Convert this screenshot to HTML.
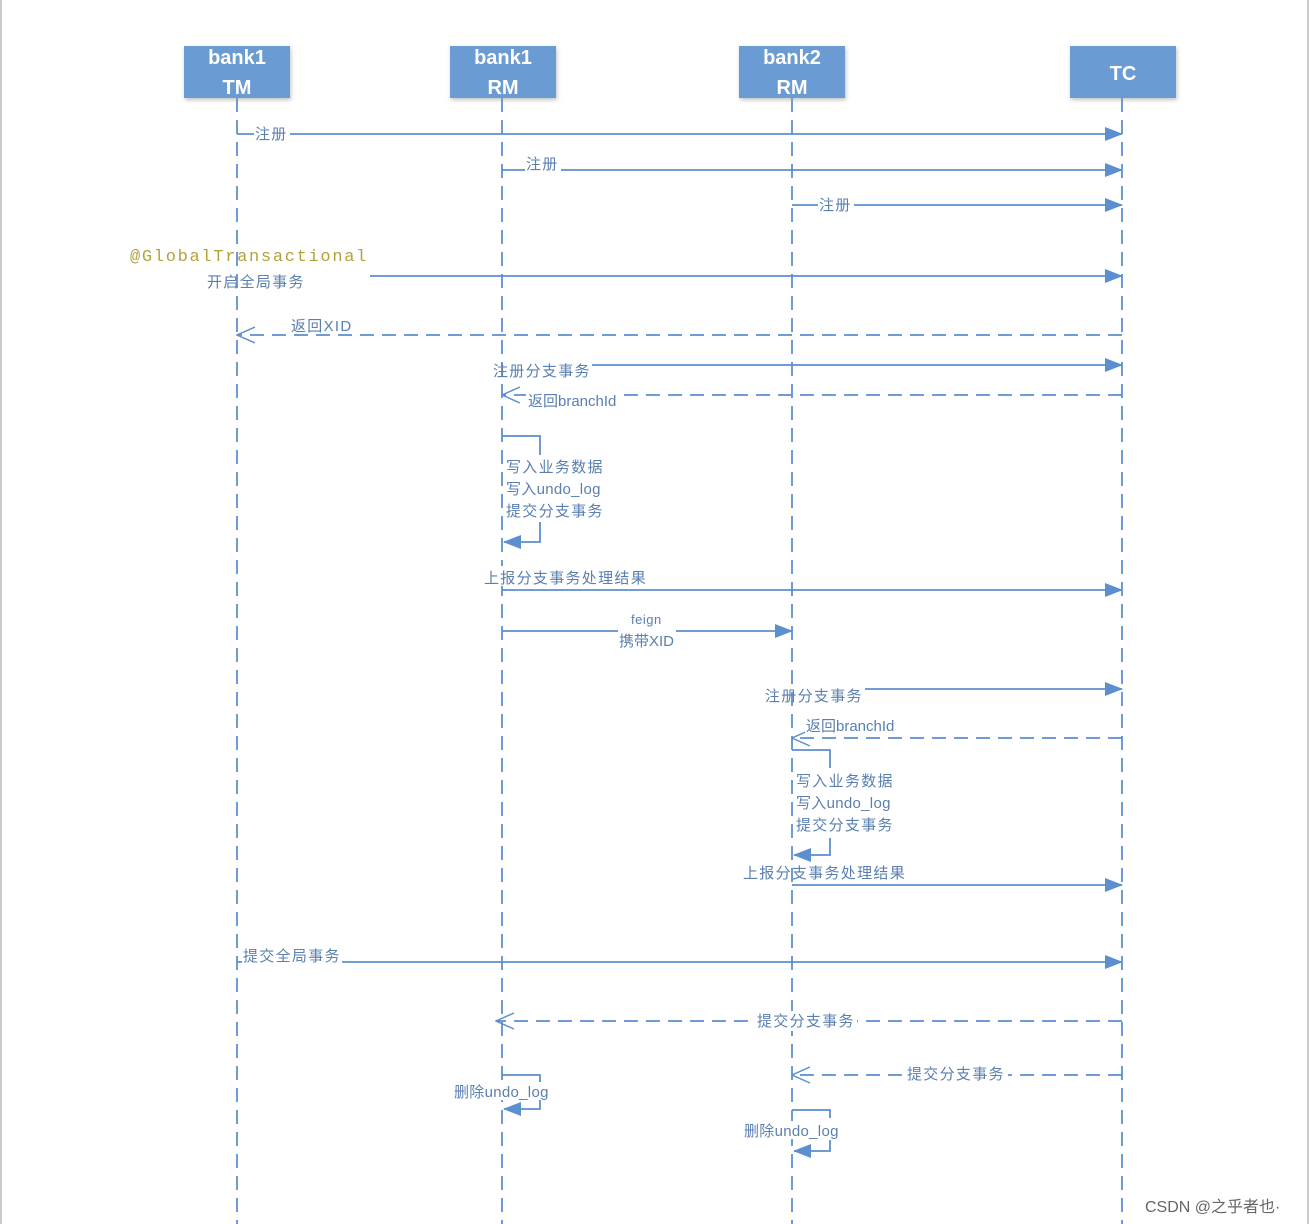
<!DOCTYPE html>
<html><head><meta charset="utf-8"><style>
html,body{margin:0;padding:0;background:#fff}
svg{display:block}
text{font-family:"Liberation Sans","Noto Sans CJK SC",sans-serif;fill:#5a7fb0;font-size:15px;letter-spacing:1.3px}
</style></head><body>
<svg width="1310" height="1224" viewBox="0 0 1310 1224" xmlns="http://www.w3.org/2000/svg">
<defs>
<marker id="f" markerWidth="18" markerHeight="14" refX="17" refY="7" orient="auto" markerUnits="userSpaceOnUse"><path d="M0,0 L18,7 L0,14 Z" fill="#5b8fd0"/></marker>
<marker id="o" markerWidth="20" markerHeight="18" refX="19" refY="9" orient="auto" markerUnits="userSpaceOnUse"><path d="M1,1 L19,9 L1,17" fill="none" stroke="#5b8fd0" stroke-width="1.5"/></marker>
<filter id="sh"><feDropShadow dx="1" dy="2" stdDeviation="2" flood-color="#999" flood-opacity="0.6"/></filter>
</defs>
<line x1="1" y1="0" x2="1" y2="1224" stroke="#ccc" stroke-width="2"/>
<line x1="1308" y1="0" x2="1308" y2="1224" stroke="#ccc" stroke-width="2"/>
<g stroke="#6d9bd4" stroke-width="2" stroke-dasharray="14,8">
<line x1="237" y1="98" x2="237" y2="1224"/>
<line x1="502" y1="98" x2="502" y2="1224"/>
<line x1="792" y1="98" x2="792" y2="1224"/>
<line x1="1122" y1="98" x2="1122" y2="1224"/>
</g>
<g fill="#6a9bd3" filter="url(#sh)">
<rect x="184" y="46" width="106" height="52"/>
<rect x="450" y="46" width="106" height="52"/>
<rect x="739" y="46" width="106" height="52"/>
<rect x="1070" y="46" width="106" height="52"/>
</g>
<g text-anchor="middle">
<text x="237" y="64" style="fill:#fff;font-size:20px;font-weight:bold;letter-spacing:0">bank1</text>
<text x="237" y="94" style="fill:#fff;font-size:20px;font-weight:bold;letter-spacing:0">TM</text>
<text x="503" y="64" style="fill:#fff;font-size:20px;font-weight:bold;letter-spacing:0">bank1</text>
<text x="503" y="94" style="fill:#fff;font-size:20px;font-weight:bold;letter-spacing:0">RM</text>
<text x="792" y="64" style="fill:#fff;font-size:20px;font-weight:bold;letter-spacing:0">bank2</text>
<text x="792" y="94" style="fill:#fff;font-size:20px;font-weight:bold;letter-spacing:0">RM</text>
<text x="1123" y="80" style="fill:#fff;font-size:20px;font-weight:bold;letter-spacing:0">TC</text>
</g>
<g stroke="#5b8fd0" stroke-width="1.8" fill="none">
<line x1="237" y1="134" x2="1122" y2="134" marker-end="url(#f)"/>
<line x1="502" y1="170" x2="1122" y2="170" marker-end="url(#f)"/>
<line x1="792" y1="205" x2="1122" y2="205" marker-end="url(#f)"/>
<line x1="370" y1="276" x2="1122" y2="276" marker-end="url(#f)"/>
<line x1="1122" y1="335" x2="237" y2="335" stroke-dasharray="14,8" marker-end="url(#o)"/>
<line x1="592" y1="365" x2="1122" y2="365" marker-end="url(#f)"/>
<line x1="1122" y1="395" x2="502" y2="395" stroke-dasharray="14,8" marker-end="url(#o)"/>
<polyline points="502,436 540,436 540,455"/>
<polyline points="540,522 540,542 504,542" marker-end="url(#f)"/>
<line x1="502" y1="590" x2="1122" y2="590" marker-end="url(#f)"/>
<line x1="502" y1="631" x2="792" y2="631" marker-end="url(#f)"/>
<line x1="865" y1="689" x2="1122" y2="689" marker-end="url(#f)"/>
<line x1="1122" y1="738" x2="792" y2="738" stroke-dasharray="14,8" marker-end="url(#o)"/>
<polyline points="792,750 830,750 830,768"/>
<polyline points="830,838 830,855 794,855" marker-end="url(#f)"/>
<line x1="792" y1="885" x2="1122" y2="885" marker-end="url(#f)"/>
<line x1="237" y1="962" x2="1122" y2="962" marker-end="url(#f)"/>
<line x1="1122" y1="1021" x2="496" y2="1021" stroke-dasharray="14,8" marker-end="url(#o)"/>
<line x1="1122" y1="1075" x2="792" y2="1075" stroke-dasharray="14,8" marker-end="url(#o)"/>
<polyline points="502,1075 540,1075 540,1082"/>
<polyline points="540,1100 540,1109 504,1109" marker-end="url(#f)"/>
<polyline points="792,1110 830,1110 830,1118"/>
<polyline points="830,1140 830,1151 794,1151" marker-end="url(#f)"/>
</g>
<g>
<rect x="254" y="124" width="36" height="18" fill="#fff"/><text x="255" y="139">注册</text>
<rect x="525" y="154" width="36" height="18" fill="#fff"/><text x="526" y="169">注册</text>
<rect x="818" y="195" width="36" height="18" fill="#fff"/><text x="819" y="210">注册</text>
<text x="130" y="261" style="fill:#b3a23c;font-family:'Liberation Mono',monospace;font-size:17px;letter-spacing:1.7px">@GlobalTransactional</text>
<text x="207" y="287">开启全局事务</text>
<rect x="290" y="316" width="58" height="18" fill="#fff"/><text x="291" y="331">返回XID</text>
<text x="493" y="376">注册分支事务</text>
<rect x="526" y="389" width="96" height="18" fill="#fff"/><text x="528" y="406" style="letter-spacing:0">返回branchId</text>
<text x="506" y="472">写入业务数据</text>
<text x="506" y="494" style="letter-spacing:0.3px">写入undo_log</text>
<text x="506" y="516">提交分支事务</text>
<rect x="484" y="566" width="166" height="20" fill="#fff"/><text x="484" y="583">上报分支事务处理结果</text>
<rect x="618" y="610" width="58" height="40" fill="#fff"/>
<text x="631" y="624" style="font-size:13px;letter-spacing:0.5px">feign</text>
<text x="619" y="646" style="letter-spacing:0">携带XID</text>
<text x="765" y="701">注册分支事务</text>
<rect x="805" y="716" width="94" height="18" fill="#fff"/><text x="806" y="731" style="letter-spacing:0">返回branchId</text>
<text x="796" y="786">写入业务数据</text>
<text x="796" y="808" style="letter-spacing:0.3px">写入undo_log</text>
<text x="796" y="830">提交分支事务</text>
<text x="743" y="878">上报分支事务处理结果</text>
<rect x="242" y="946" width="100" height="18" fill="#fff"/><text x="243" y="961">提交全局事务</text>
<rect x="755" y="1011" width="102" height="20" fill="#fff"/><text x="757" y="1026">提交分支事务</text>
<rect x="906" y="1064" width="102" height="20" fill="#fff"/><text x="907" y="1079">提交分支事务</text>
<rect x="454" y="1082" width="98" height="18" fill="#fff"/><text x="454" y="1097" style="letter-spacing:0.3px">删除undo_log</text>
<rect x="744" y="1121" width="98" height="18" fill="#fff"/><text x="744" y="1136" style="letter-spacing:0.3px">删除undo_log</text>
</g>
<text x="1145" y="1212" style="fill:#666;font-size:16px;letter-spacing:0">CSDN @之乎者也·</text>
</svg>
</body></html>
